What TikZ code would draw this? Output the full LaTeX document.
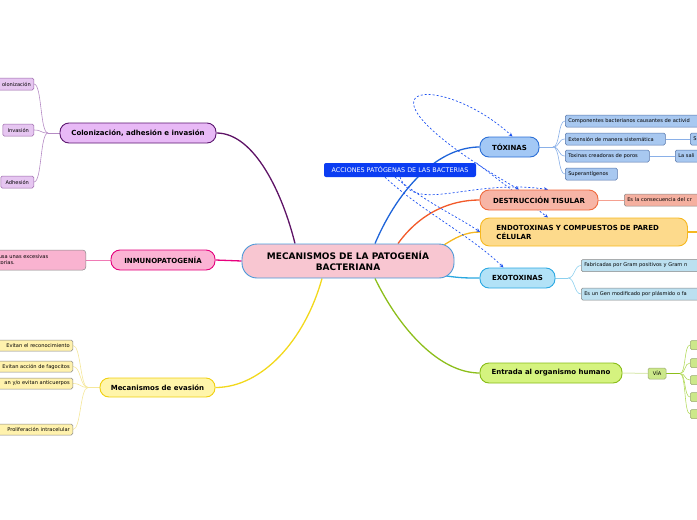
\documentclass[tikz,border=0pt]{standalone}
\usepackage{fontspec}
\setmainfont{DejaVu Sans}
\usetikzlibrary{backgrounds,calc,arrows.meta}
\definecolor{cenF}{HTML}{F8C6D1}\definecolor{cenD}{HTML}{4A98D8}
\definecolor{purF}{HTML}{E8B9F6}\definecolor{purD}{HTML}{5C1770}\definecolor{purL}{HTML}{5E1366}
\definecolor{purcF}{HTML}{E6C6F1}\definecolor{purcD}{HTML}{9966A8}\definecolor{purcL}{HTML}{B58BC4}
\definecolor{pinF}{HTML}{FBB3D4}\definecolor{pinD}{HTML}{E4007C}\definecolor{pinL}{HTML}{E8007E}
\definecolor{pincF}{HTML}{F9B3D0}\definecolor{pincL}{HTML}{F07AB5}
\definecolor{yelF}{HTML}{FFF5AA}\definecolor{yelD}{HTML}{F0D010}\definecolor{yelL}{HTML}{F2D81C}
\definecolor{yelcF}{HTML}{FFF2AD}\definecolor{yelcL}{HTML}{F5E79A}
\definecolor{toxF}{HTML}{A3C8F5}\definecolor{toxD}{HTML}{2B6FD6}\definecolor{toxL}{HTML}{1E64D9}
\definecolor{toxcF}{HTML}{A8C8F0}\definecolor{toxcD}{HTML}{5575AA}\definecolor{toxcL}{HTML}{8AB0E8}
\definecolor{accF}{HTML}{0B3DF2}\definecolor{dashc}{HTML}{1A4FF0}
\definecolor{desF}{HTML}{F7B5A6}\definecolor{desD}{HTML}{F06A3E}\definecolor{desL}{HTML}{F25A2A}
\definecolor{descF}{HTML}{F5B0A0}\definecolor{descL}{HTML}{F5A090}
\definecolor{endF}{HTML}{FDDA8C}\definecolor{endD}{HTML}{F6B820}\definecolor{endL}{HTML}{F5B820}
\definecolor{exoF}{HTML}{B2E2F7}\definecolor{exoD}{HTML}{2AA8E2}\definecolor{exoL}{HTML}{29A8E0}
\definecolor{exocF}{HTML}{BCE0F0}\definecolor{exocL}{HTML}{8CD0EE}
\definecolor{entF}{HTML}{D5F37F}\definecolor{entD}{HTML}{88BC18}\definecolor{entL}{HTML}{8CBE1A}
\definecolor{viaF}{HTML}{CCE88A}\definecolor{viaD}{HTML}{9AAA70}\definecolor{viaL}{HTML}{DDEBB8}
\definecolor{viacL}{HTML}{B5DC60}\definecolor{leafD}{HTML}{888888}
\begin{document}
\begin{tikzpicture}[x=1pt,y=-1pt,
  topic/.style={draw, rounded corners=9pt, line width=0.9pt, inner sep=0pt,
    font=\bfseries\fontsize{7}{8}\selectfont},
  leaf/.style={draw, rounded corners=1.5pt, line width=0.5pt, inner xsep=3pt, inner ysep=0pt,
    minimum height=12pt, font=\fontsize{5.1}{6}\selectfont},
  mainline/.style={line width=1.3pt},
  subline/.style={line width=0.6pt},
  rel/.style={draw=dashc, line width=0.7pt, dash pattern=on 2pt off 2pt, -{Stealth[length=4pt,width=3.5pt]}}
]
\useasboundingbox (0,0) rectangle (697,520);
\clip (0,0) rectangle (697,520);

% main topics
\node[topic, fill=cenF, draw=cenD, minimum width=212pt, minimum height=34pt, rounded corners=15pt,
  align=center, font=\bfseries\fontsize{9}{11}\selectfont] (cen) at (348,261)
  {MECANISMOS DE LA PATOGENÍA\\BACTERIANA};
\node[topic, fill=purF, draw=purD, minimum width=156pt, minimum height=20pt] (col) at (138,133)
  {Colonización, adhesión e invasión};
\node[topic, fill=pinF, draw=pinD, minimum width=104pt, minimum height=20pt] (inm) at (163,260)
  {INMUNOPATOGENÍA};
\node[topic, fill=yelF, draw=yelD, minimum width=115pt, minimum height=19pt] (mev) at (157.5,387.5)
  {Mecanismos de evasión};
\node[topic, fill=toxF, draw=toxD, minimum width=59pt, minimum height=20pt] (tox) at (509.5,147)
  {TÓXINAS};
\node[topic, fill=desF, draw=desD, minimum width=118pt, minimum height=20pt] (des) at (539,200)
  {DESTRUCCIÓN TISULAR};
\node[topic, fill=endF, draw=endD, minimum height=28pt, anchor=west, inner xsep=16pt,
  text width=175pt, align=left, font=\bfseries\fontsize{7}{9}\selectfont] (endo) at (480,232)
  {ENDOTOXINAS Y COMPUESTOS DE PARED\\CÉLULAR};
\node[topic, fill=exoF, draw=exoD, minimum width=75pt, minimum height=20pt] (exo) at (517.5,278)
  {EXOTOXINAS};
\node[topic, fill=entF, draw=entD, minimum width=142pt, minimum height=20pt] (ent) at (551,373)
  {Entrada al organismo humano};
\node[fill=accF, rounded corners=2pt, minimum width=152pt, minimum height=14pt, inner sep=0pt,
  text=white, font=\fontsize{6.4}{7.5}\selectfont] (acc) at (400,170)
  {ACCIONES PATÓGENAS DE LAS BACTERIAS};

% purple leaves
\node[leaf, fill=purcF, draw=purcD, anchor=east, text width=45pt, align=right] (c1) at (34,84) {olonización};
\node[leaf, fill=purcF, draw=purcD, anchor=east, minimum width=31pt] (c2) at (34,130) {Invasión};
\node[leaf, fill=purcF, draw=purcD, anchor=east, minimum width=33pt] (c3) at (34,182) {Adhesión};
% pink leaf
\node[leaf, fill=pincF, draw=leafD, anchor=east, text width=84pt, align=left, minimum height=20pt,
  rounded corners=3pt] (p1) at (86,260) {usa unas excesivas\\torias.};
% yellow leaves
\node[leaf, fill=yelcF, draw=leafD, anchor=east, text width=70pt, align=right, minimum height=11pt] (e1) at (73,345.5) {Evitan el reconocimiento};
\node[leaf, fill=yelcF, draw=leafD, anchor=east, text width=74pt, align=right, minimum height=11pt] (e2) at (73,366.5) {Evitan acción de fagocitos};
\node[leaf, fill=yelcF, draw=leafD, anchor=east, text width=74pt, align=right, minimum height=11pt] (e3) at (73,383.5) {an y/o evitan anticuerpos};
\node[leaf, fill=yelcF, draw=leafD, anchor=east, text width=70pt, align=right, minimum height=11pt] (e4) at (73,429.5) {Proliferación intracelular};
% toxinas leaves
\node[leaf, fill=toxcF, draw=toxcD, anchor=west, text width=150pt, align=left] (t1) at (565,121) {Componentes bacterianos causantes de activid};
\node[leaf, fill=toxcF, draw=toxcD, anchor=west, text width=94pt, align=left] (t2) at (565,139) {Extensión de manera sistemática};
\node[leaf, fill=toxcF, draw=toxcD, anchor=west, text width=30pt, align=left] (t2b) at (690,139) {S};
\node[leaf, fill=toxcF, draw=toxcD, anchor=west, text width=78pt, align=left] (t3) at (565,156) {Toxinas creadoras de poros};
\node[leaf, fill=toxcF, draw=toxcD, anchor=west, text width=40pt, align=left] (t3b) at (675,156) {La sali};
\node[leaf, fill=toxcF, draw=toxcD, anchor=west, text width=46pt, align=left] (t4) at (565,174) {Superantígenos};
% destruccion leaf
\node[leaf, fill=descF, draw=leafD, anchor=west, text width=100pt, align=left] (d1) at (624,200) {Es la consecuencia del cr};
% exotoxinas leaves
\node[leaf, fill=exocF, draw=leafD, anchor=west, text width=140pt, align=left] (x1) at (581,265.5) {Fabricadas por Gram positivos y Gram n};
\node[leaf, fill=exocF, draw=leafD, anchor=west, text width=140pt, align=left] (x2) at (581,294) {Es un Gen modificado por plásmido o fa};
% via
\node[leaf, fill=viaF, draw=viaD, minimum width=18pt, minimum height=11pt, inner xsep=1pt] (via) at (657,373.5) {VÍA};
\foreach \i/\yy in {1/345,2/363,3/380,4/397,5/414}
  \node[leaf, fill=viaF, draw=viaD, anchor=west, minimum width=20pt, minimum height=9pt] (v\i) at (690,\yy) {};
\coordinate (endoR) at (712,232);

% fork points
\coordinate (colF) at (48,133);
\coordinate (mevF) at (88,387.5);
\coordinate (toxF) at (553,147);
\coordinate (exoF) at (568,278);
\coordinate (viaFk) at (680,373.5);

\begin{scope}[on background layer]
  % main branches
  \draw[mainline, purL] ($(cen.north)+(-53,0)$) .. controls (283,195) and (255,133) .. (col.east);
  \draw[mainline, pinL] (cen.west) -- (inm.east);
  \draw[mainline, yelL] ($(cen.south)+(-26,0)$) .. controls (305,340) and (262,387.5) .. (mev.east);
  \draw[mainline, toxL] ($(cen.north)+(27,0)$) .. controls (400,185) and (440,147) .. (tox.west);
  \draw[mainline, desL] ($(cen.north)+(50,0)$) .. controls (420,213) and (450,200) .. (des.west);
  \draw[mainline, endL] ($(cen.north)+(95,2)$) .. controls (455,238) and (465,232) .. (endo.west);
  \draw[mainline, exoL] ($(cen.south)+(95,-3)$) .. controls (460,278) and (465,278) .. (exo.west);
  \draw[mainline, entL] ($(cen.south)+(27,0)$) .. controls (400,330) and (440,373) .. (ent.west);
  % sub branches
  \draw[subline, purcL] (col.west) -- (colF);
  \draw[subline, purcL] (colF) .. controls (40,133) and (42,84) .. (c1.east);
  \draw[subline, purcL] (colF) .. controls (40,133) and (42,130) .. (c2.east);
  \draw[subline, purcL] (colF) .. controls (40,133) and (42,182) .. (c3.east);
  \draw[subline, pincL] (inm.west) -- (p1.east);
  \draw[subline, yelcL] (mev.west) -- (mevF);
  \draw[subline, yelcL] (mevF) .. controls (80,387.5) and (81,345.5) .. (e1.east);
  \draw[subline, yelcL] (mevF) .. controls (80,387.5) and (81,366.5) .. (e2.east);
  \draw[subline, yelcL] (mevF) .. controls (80,387.5) and (81,383.5) .. (e3.east);
  \draw[subline, yelcL] (mevF) .. controls (80,387.5) and (81,429.5) .. (e4.east);
  \draw[subline, toxcL] (tox.east) -- (toxF);
  \draw[subline, toxcL] (toxF) .. controls (560,147) and (558,121) .. (t1.west);
  \draw[subline, toxcL] (toxF) .. controls (560,147) and (558,139) .. (t2.west);
  \draw[subline, toxcL] (toxF) .. controls (560,147) and (558,156) .. (t3.west);
  \draw[subline, toxcL] (toxF) .. controls (560,147) and (558,174) .. (t4.west);
  \draw[subline, toxcL] (t2.east) -- (t2b.west);
  \draw[subline, toxcL] (t3.east) -- (t3b.west);
  \draw[subline, descL] (des.east) -- (d1.west);
  \draw[mainline, endL] (endo.east) -- (endoR);
  \draw[subline, exocL] (exo.east) -- (exoF);
  \draw[subline, exocL] (exoF) .. controls (575,278) and (574,265.5) .. (x1.west);
  \draw[subline, exocL] (exoF) .. controls (575,278) and (574,294) .. (x2.west);
  \draw[subline, viaL, line width=1pt] (ent.east) -- (via.west);
  \draw[subline, entL, line width=1pt] (via.east) -- (viaFk);
  \foreach \i/\yy in {1/345,2/363,3/380,4/397,5/414}
    \draw[subline, viacL] (viaFk) .. controls (686,373.5) and (684,\yy) .. (v\i.west);
  % dashed relations
  \draw[rel, {Stealth[length=4pt,width=3.5pt]}-{Stealth[length=4pt,width=3.5pt]}]
    ($(des.north)+(-20,0)$) .. controls (330,80) and (440,70) .. ($(tox.north)+(3,0)$);
  \draw[rel] (acc.north east) -- ($(endo.north west)+(68,0)$);
  \draw[rel] (acc.south) .. controls (415,215) and (470,178) .. ($(des.north)+(9,0)$);
  \draw[rel] ($(acc.south)+(-5,0)$) .. controls (430,205) and (460,218) .. (endo.west);
  \draw[rel] ($(acc.south)+(-15,0)$) .. controls (420,210) and (470,235) .. ($(exo.north)+(-14,0)$);
\end{scope}
\end{tikzpicture}
\end{document}
